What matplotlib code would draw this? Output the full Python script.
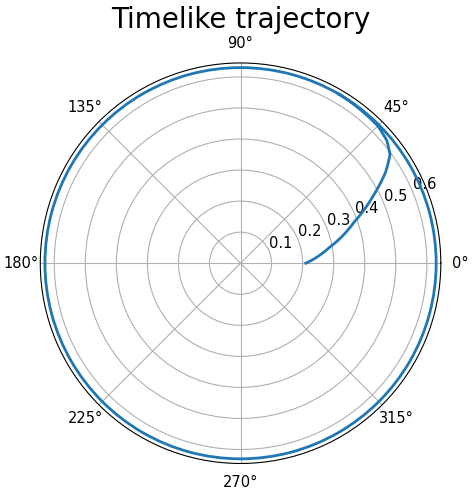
import numpy as np
import matplotlib
matplotlib.use("Agg")
import matplotlib.pyplot as plt

theta_deg = [0, 10, 20, 27, 32, 36, 40, 45, 60, 90, 120, 150, 180, 210, 240, 270, 300, 330, 360, 390, 420]
radius = [0.21, 0.29, 0.39, 0.48, 0.55, 0.595, 0.615, 0.625, 0.63, 0.63, 0.63, 0.63, 0.63, 0.63, 0.63, 0.63, 0.63, 0.63, 0.63, 0.63, 0.63]
rticks = [0.1, 0.2, 0.3, 0.4, 0.5, 0.6]

fig = plt.figure(figsize=(4.74, 4.92), dpi=100)
ax = fig.add_subplot(111, projection='polar')
line, = ax.plot(np.deg2rad(theta_deg), radius, color='#1f77b4', lw=2)
line._path._interpolation_steps = 60
ax.set_ylim(0, 0.645)
ax.set_yticks(rticks)
ax.tick_params(labelsize=10.5)
ax.grid(True)
ax.set_title("Timelike trajectory", fontsize=20)
fig.subplots_adjust(left=0.085, right=0.93, top=0.875, bottom=0.055)
fig.savefig("out.png")
